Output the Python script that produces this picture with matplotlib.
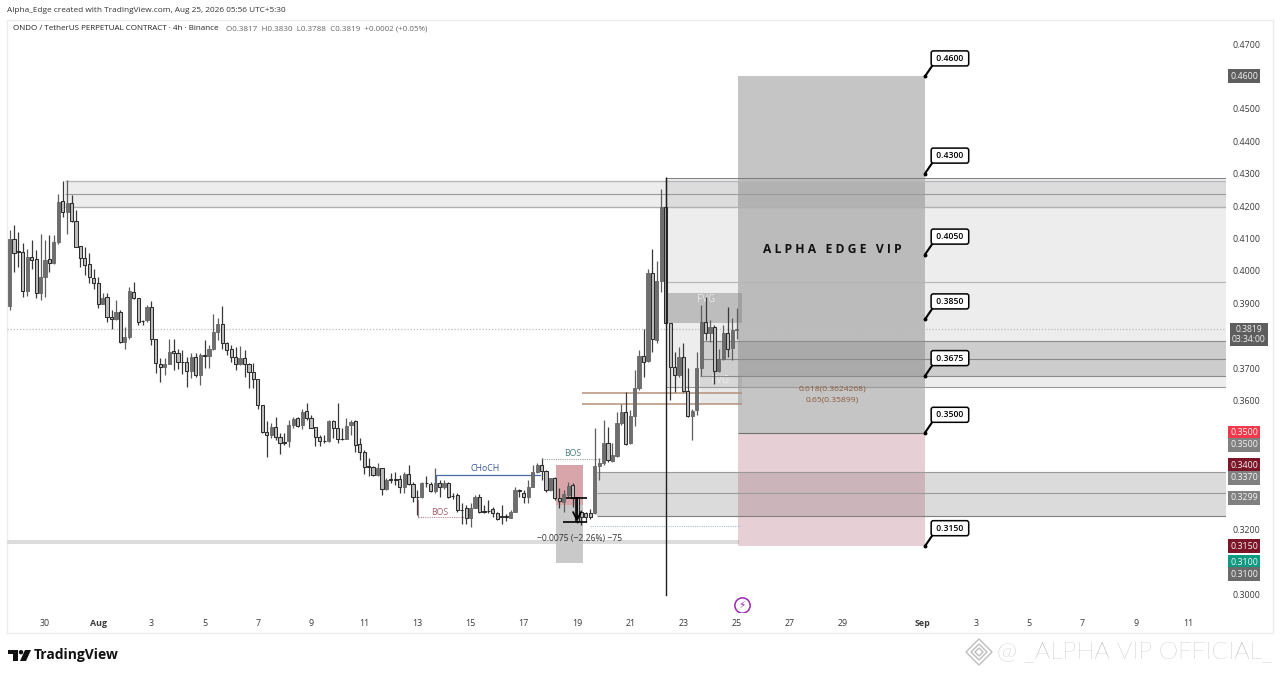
import matplotlib
matplotlib.use("Agg")
import matplotlib.pyplot as plt
from matplotlib.patches import Rectangle, Polygon, Circle
import numpy as np

plt.rcParams['font.family'] = ['Open Sans', 'DejaVu Sans']

# ---- data -----------------------------------------------------------------
first_candle_day = -4 / 3      # days relative to Jul 30
candle_step = 1 / 6            # 4h candles
opens = [.3891,.4097,.4061,.4057,.3938,.4043,.4035,.3930,.3980,.4035,
         .4023,.4090,.4215,.4182,.4208,.4155,.4076,.4038,.4020,.3979,
         .3963,.3899,.3918,.3858,.3851,.3874,.3781,.3797,.3936,.3915,
         .3845,.3848,.3889,.3791,.3712,.3702,.3712,.3753,.3747,.3718,
         .3717,.3692,.3733,.3678,.3739,.3737,.3760,.3812,.3836,.3776,
         .3760,.3735,.3711,.3732,.3711,.3688,.3665,.3586,.3503,.3493,
         .3519,.3486,.3473,.3475,.3524,.3545,.3524,.3567,.3545,.3517,
         .3486,.3476,.3476,.3537,.3516,.3481,.3481,.3524,.3536,.3465,
         .3442,.3396,.3393,.3370,.3392,.3328,.3356,.3356,.3356,.3334,
         .3373,.3342,.3302,.3301,.3345,.3342,.3320,.3346,.3332,.3346,
         .3306,.3308,.3263,.3267,.3236,.3269,.3303,.3258,.3259,.3264,
         .3251,.3242,.3242,.3238,.3256,.3322,.3315,.3301,.3334,.3378,
         .3402,.3383,.3323,.3359,.3300,.3287,.3308,.3339,.3301,.3257,
         .3251,.3251,.3253,.3397,.3408,.3467,.3414,.3428,.3529,.3565,
         .3467,.3552,.3637,.3738,.3722,.3992,.3786,.3969,.4198,.3840,
         .3702,.3678,.3733,.3630,.3553,.3570,.3699,.3843,.3807,.3827,
         .3692,.3728,.3807,.3763,.3817]
highs = [.4126,.4141,.4121,.4085,.4067,.4095,.4064,.4115,.4095,.4110,
         .4110,.4237,.4278,.4280,.4234,.4188,.4076,.4074,.4054,.4007,
         .3980,.3930,.3930,.3879,.3910,.3879,.3827,.3951,.3964,.3915,
         .3848,.3894,.3908,.3791,.3730,.3730,.3791,.3791,.3760,.3755,
         .3735,.3747,.3745,.3747,.3786,.3771,.3866,.3853,.3892,.3781,
         .3771,.3766,.3769,.3755,.3714,.3714,.3665,.3586,.3537,.3529,
         .3548,.3498,.3498,.3539,.3550,.3548,.3575,.3591,.3555,.3517,
         .3493,.3493,.3539,.3539,.3591,.3514,.3545,.3541,.3539,.3483,
         .3447,.3421,.3397,.3408,.3392,.3359,.3377,.3380,.3370,.3380,
         .3400,.3349,.3323,.3349,.3367,.3349,.3390,.3354,.3354,.3349,
         .3313,.3313,.3282,.3277,.3284,.3308,.3311,.3277,.3292,.3272,
         .3256,.3277,.3249,.3262,.3334,.3328,.3323,.3354,.3400,.3408,
         .3421,.3385,.3361,.3364,.3329,.3323,.3349,.3344,.3303,.3262,
         .3257,.3264,.3514,.3421,.3540,.3519,.3467,.3565,.3590,.3625,
         .3570,.3694,.3755,.3819,.4007,.4066,.4031,.4252,.4290,.3840,
         .3748,.3766,.3776,.3699,.3575,.3750,.3894,.3920,.3848,.3833,
         .3760,.3833,.3887,.3853,.3885]
lows = [.3879,.3997,.4013,.3918,.3922,.4007,.3915,.3910,.3918,.3997,
        .4021,.4083,.4167,.4115,.4152,.4072,.4011,.3987,.3961,.3943,
        .3884,.3897,.3843,.3819,.3848,.3778,.3760,.3791,.3912,.3833,
        .3833,.3843,.3771,.3685,.3658,.3678,.3712,.3694,.3696,.3683,
        .3640,.3668,.3673,.3647,.3699,.3699,.3757,.3786,.3760,.3740,
        .3719,.3694,.3709,.3671,.3637,.3637,.3575,.3500,.3426,.3483,
        .3478,.3434,.3462,.3455,.3514,.3517,.3511,.3539,.3514,.3459,
        .3459,.3469,.3473,.3483,.3467,.3478,.3480,.3493,.3442,.3416,
        .3373,.3367,.3367,.3367,.3308,.3323,.3344,.3339,.3315,.3315,
        .3339,.3287,.3246,.3298,.3334,.3318,.3315,.3301,.3328,.3298,
        .3295,.3256,.3220,.3218,.3210,.3267,.3253,.3251,.3253,.3239,
        .3231,.3218,.3229,.3236,.3256,.3303,.3282,.3282,.3332,.3375,
        .3354,.3318,.3321,.3292,.3267,.3257,.3303,.3272,.3221,.3215,
        .3226,.3233,.3249,.3354,.3401,.3411,.3411,.3426,.3524,.3462,
        .3465,.3521,.3632,.3671,.3719,.3750,.3776,.3935,.3835,.3601,
        .3627,.3673,.3627,.3550,.3477,.3555,.3675,.3786,.3781,.3652,
        .3688,.3724,.3735,.3724,.3791]
closes = [.4097,.4056,.4059,.3938,.4043,.4033,.3930,.3980,.4033,.4023,
          .4090,.4213,.4182,.4208,.4155,.4074,.4038,.4018,.3980,.3961,
          .3899,.3917,.3858,.3851,.3874,.3781,.3797,.3938,.3915,.3843,
          .3844,.3889,.3791,.3714,.3702,.3712,.3750,.3745,.3717,.3717,
          .3692,.3733,.3678,.3740,.3737,.3760,.3812,.3836,.3776,.3757,
          .3735,.3712,.3732,.3711,.3688,.3665,.3586,.3503,.3493,.3519,
          .3486,.3467,.3469,.3524,.3543,.3521,.3565,.3545,.3516,.3486,
          .3475,.3475,.3537,.3516,.3480,.3480,.3521,.3534,.3463,.3442,
          .3395,.3395,.3370,.3390,.3328,.3354,.3355,.3355,.3334,.3373,
          .3342,.3301,.3301,.3344,.3344,.3320,.3344,.3332,.3346,.3301,
          .3305,.3262,.3262,.3236,.3267,.3301,.3256,.3257,.3258,.3251,
          .3233,.3241,.3241,.3256,.3323,.3321,.3301,.3332,.3378,.3402,
          .3382,.3323,.3359,.3298,.3289,.3311,.3337,.3298,.3229,.3241,
          .3239,.3239,.3397,.3408,.3467,.3416,.3431,.3529,.3565,.3465,
          .3552,.3637,.3738,.3719,.3992,.3791,.3969,.4198,.3840,.3702,
          .3678,.3735,.3630,.3553,.3568,.3699,.3843,.3807,.3827,.3692,
          .3728,.3809,.3760,.3817,.3819]

x_tick_days = [0,2,4,6,8,10,12,14,16,18,20,22,24,26,28,30,33,35,37,39,41,43]
x_tick_labels = ['30','Aug','3','5','7','9','11','13','15','17','19','21','23','25','27','29','Sep','3','5','7','9','11']
y_tick_values = [.47,.45,.44,.43,.42,.41,.40,.39,.37,.36,.32,.30]

callout_prices = [.4600,.4300,.4050,.3850,.3675,.3500,.3150]
# price tag: value, background colour, pixel shift
tag_values = [.4600,.3500,.3500,.3400,.3370,.3299,.3150,.3100,.3100]
tag_colors = ['#5e5e5e','#f2394b','#808080','#7b1527','#808080','#808080','#7b1527','#0d9a83','#6b6b6b']
tag_shifts = [0,0,-12,0,-3,0,0,0,-12]

last_price = .3819
entry_price, target_price, stop_price = .3500, .4600, .3150
fib_levels = [.3624, .3590]

# ---- figure ---------------------------------------------------------------
W, H = 1280, 676
fig = plt.figure(figsize=(W/100, H/100), dpi=100, facecolor='white')
top_px, bot_px, left_px, right_px = 20, 612, 7, 1226
ax = fig.add_axes([left_px/W, 1-bot_px/H, (right_px-left_px)/W, (bot_px-top_px)/H])
ax.set_xlim(-1.4286, 44.398)
ax.set_ylim(.29469, .47741)
ax.set_facecolor('none')
for s in ax.spines.values():
    s.set_visible(False)
XMAX = 44.398

def band(x0, x1, p0, p1, fc, alpha=1, z=1):
    ax.add_patch(Rectangle((x0, p0), x1-x0, p1-p0, fc=fc, ec='none', alpha=alpha, zorder=z))

def hline(p, x0, x1, color='#8f8f8f', lw=0.8, ls='-', z=1.5):
    ax.plot([x0, x1], [p, p], color=color, lw=lw, ls=ls, zorder=z, solid_capstyle='butt')

# big light zone right of the spike
band(23.35, XMAX, .3641, .4286, '#000000', .07, 1)
hline(.4286, 23.35, XMAX, '#7a7a82', .7)
hline(.3965, 23.35, XMAX, '#b5b5b5', .8)
hline(.3641, 23.35, XMAX, '#9a9a9a', .8)
# top supply band
band(.75, XMAX, .4197, .4277, '#000000', .07, 1)
hline(.4277, .75, XMAX, '#b8b8b8', 1.0)
hline(.4237, .75, XMAX, '#9a9a9a', .8)
hline(.4197, .75, XMAX, '#b0b0b0', 1.0)
# mid band
band(24.62, XMAX, .3675, .3783, '#000000', .135, 1.1)
hline(.3783, 24.62, XMAX, '#8a8a8a', .8)
hline(.3728, 24.62, XMAX, '#8a8a8a', .8)
hline(.3675, 24.62, XMAX, '#8a8a8a', .8)
# FVG boxes
band(23.35, 26.2, .3839, .3931, '#000000', .2, 1.1)
band(24.62, 26.2, .3590, .3675, '#000000', .09, 1.1)
ax.text(24.85, .3912, 'FVG', fontsize=7, color='#e9e9e9', ha='center', va='center', zorder=1.2)
ax.text(25.37, .3660, 'FVG', fontsize=7, color='#ededed', ha='center', va='center', zorder=1.2)
# lower band
band(20.75, XMAX, .3243, .3379, '#000000', .14, 1)
hline(.3379, 20.75, XMAX, '#9a9a9a', .8)
hline(.3314, 20.75, XMAX, '#9a9a9a', .8)
hline(.3243, 20.75, XMAX, '#808080', .8)
# strip at the lows
band(-1.4286, 26.1, .3157, .3169, '#dcdcdc', 1, 1)
# measure rectangle
band(19.21, 20.23, .3277, .3400, '#d8a6aa', 1, 1.2)
band(19.21, 20.23, .3098, .3277, '#c9c9c9', 1, 1.2)
# long-position tool
band(26.05, 33.08, entry_price, target_price, '#808080', .45, 1.3)
band(26.05, 33.08, stop_price, entry_price, '#9f475b', .25, 1.3)
hline(entry_price, 26.05, 33.08, '#707070', .8, z=1.4)
# fib lines
for p in fib_levels:
    hline(p, 20.19, 26.2, '#b5917a', 1.1, z=1.6)
ax.text(29.6, .3634, '0.618(0.3624268)', fontsize=6.1, color='#8a5a3c', ha='center', va='center', zorder=5)
ax.text(29.6, .3600, '0.65(0.35899)', fontsize=6.1, color='#8a5a3c', ha='center', va='center', zorder=5)
# current price line
ax.plot([-1.4286, XMAX], [last_price, last_price], color='#bdbdbd', lw=.9, ls=(0, (1, 1.5)), zorder=1.7)
# dotted target under measure
hline(.3213, 20.49, 26.13, '#b3bdd6', .8, (0, (1, 1)))

# candles
days = first_candle_day + candle_step*np.arange(len(opens))
o, h, l, c = map(np.array, (opens, highs, lows, closes))
up = c >= o
ax.vlines(days[up], l[up], h[up], color='#5d5d5d', lw=.9, zorder=3)
ax.vlines(days[~up], l[~up], h[~up], color='#383838', lw=.9, zorder=3)
bw = candle_step*.72
min_h = .00012
ax.bar(days[up], np.maximum(c[up]-o[up], min_h), bw, o[up], color='#6e6e6e', ec='#666666', lw=.6, zorder=4)
ax.bar(days[~up], np.maximum(o[~up]-c[~up], min_h), bw, c[~up], color='#bdbdbd', ec='#2c2c2c', lw=.75, zorder=4)

# spike vertical
ax.plot([23.35, 23.35], [.3000, .4286], color='#202020', lw=1.0, zorder=5)

# structure marks
ax.plot([14.7, 14.7, 18.6], [.3332, .3371, .3371], color='#4a6aa8', lw=.9, zorder=3.5)
ax.text(16.54, .3390, 'CHoCH', fontsize=6.3, color='#3a5a9a', ha='center', va='center', zorder=5)
ax.plot([14.02, 14.02], [.3293, .3240], color='#9a7a80', lw=.8, zorder=3.5)
ax.plot([14.02, 15.79], [.3240, .3240], color='#c08a96', lw=.8, ls=(0, (1, 1)), zorder=3.5)
ax.text(14.85, .3255, 'BOS', fontsize=6.3, color='#a85a6a', ha='center', va='center', zorder=5)
ax.plot([18.68, 20.86], [.3420, .3420], color='#9aa5a5', lw=.8, ls=(0, (1, 1)), zorder=3.5)
ax.text(19.85, .3437, 'BOS', fontsize=6.3, color='#4f8080', ha='center', va='center', zorder=5)

# measure tool
hline(.3299, 19.59, 20.38, '#000000', 1.2, z=6)
hline(.3225, 19.47, 20.38, '#000000', 1.2, z=6)
ax.annotate('', xy=(20.0, .3225), xytext=(20.0, .3299),
            arrowprops=dict(arrowstyle='->', color='black', lw=1.3, mutation_scale=14, shrinkA=0, shrinkB=0), zorder=6)
ax.text(20.1, .3175, '\u22120.0075 (\u22122.26%) \u221275', fontsize=6.2, color='#333333', ha='center', va='center', zorder=6)

# title over long box
ax.text(29.6, .4065, 'A L P H A   E D G E   V I P', fontsize=8.7, color='#111111', fontweight='bold',
        ha='center', va='center', zorder=6)

# callouts
for p in callout_prices:
    ax.annotate(f' {p:.4f} ', xy=(33.08, p), xycoords='data', xytext=(25, 18), textcoords='offset pixels',
                fontsize=6.2, fontweight='semibold', color='black', ha='center', va='center', zorder=7,
                bbox=dict(boxstyle='round,pad=0.35,rounding_size=0.25', fc='white', ec='black', lw=1.1),
                arrowprops=dict(arrowstyle='-', color='black', lw=1.5, shrinkA=0, shrinkB=0, relpos=(0, 0)))
    ax.plot([33.08], [p], 'o', color='black', ms=1.8, zorder=7)

# lightning icon
ax.plot([26.2], [.2969], 'o', ms=11, mfc='white', mec='#9c27b0', mew=1.1, zorder=7)
ax.text(26.2, .2969, '\u26A1', fontsize=7.5, color='#9c27b0', ha='center', va='center', family='DejaVu Sans', zorder=8)

# axes ticks
ax.yaxis.tick_right()
ax.set_yticks(y_tick_values)
ax.set_yticklabels([f'{v:.4f}' for v in y_tick_values], fontsize=6.4, color='#3a3a3a')
ax.tick_params(axis='y', length=0, pad=4.5)
ax.set_xticks(x_tick_days)
ax.set_xticklabels(x_tick_labels, fontsize=6.4, color='#3a3a3a')
for t, lab in zip(ax.get_xticklabels(), x_tick_labels):
    if lab in ('Aug', 'Sep'):
        t.set_fontweight('bold')
ax.tick_params(axis='x', length=0, pad=5)

# price tags
tag_tr = ax.get_yaxis_transform()
for v, col, sh in zip(tag_values, tag_colors, tag_shifts):
    ax.annotate(f'{v:.4f}', xy=(1, v), xycoords=tag_tr, xytext=(18, sh), textcoords='offset pixels',
                fontsize=6.4, color='#f4f4f4', ha='center', va='center', zorder=9, annotation_clip=False,
                bbox=dict(boxstyle='square,pad=0.28', fc=col, ec='none'))
ax.annotate(f'{last_price:.4f}\n03:34:00', xy=(1, last_price), xycoords=tag_tr, xytext=(23, -5), textcoords='offset pixels',
            fontsize=6.2, color='#efefef', ha='center', va='center', zorder=9, annotation_clip=False, linespacing=1.1,
            bbox=dict(boxstyle='square,pad=0.25', fc='#5e5e5e', ec='none'))

# overlay in pixel units
ov = fig.add_axes([0, 0, 1, 1], zorder=-1)
ov.set_xlim(0, W); ov.set_ylim(H, 0); ov.axis('off')
ov.add_patch(Rectangle((7, 20), 1266, 613, fc='white', ec='#ececec', lw=1))
top = fig.add_axes([0, 0, 1, 1], zorder=10)
top.set_xlim(0, W); top.set_ylim(H, 0); top.axis('off'); top.patch.set_alpha(0)
top.text(7, 10, 'Alpha_Edge created with TradingView.com, Aug 25, 2026 05:56 UTC+5:30', fontsize=5.95, color='#333333', va='center')
top.text(13, 29, 'ONDO / TetherUS PERPETUAL CONTRACT \u00b7 4h \u00b7 Binance', fontsize=5.75, color='#222222', va='center')
top.text(226, 29, 'O0.3817  H0.3830  L0.3788  C0.3819  +0.0002 (+0.05%)', fontsize=5.8, color='#666666', va='center')
# TradingView logo
top.add_patch(Polygon([(8,650),(18,650),(18,661),(13,661),(13,654),(8,654)], fc='#111111', ec='none'))
top.add_patch(Circle((21,652.2), 2.2, fc='#111111', ec='none'))
top.add_patch(Polygon([(25,650),(31,650),(26,661),(20,661)], fc='#111111', ec='none'))
top.text(34, 655, 'TradingView', fontsize=10, fontweight='bold', color='#111111', va='center', family='Open Sans')
# watermark
for s in (13, 8, 4):
    top.add_patch(Polygon([(979,652-s),(979+s,652),(979,652+s),(979-s,652)], fc='none', ec='#bcbcbc', lw=1))
top.text(997, 652, '@ _ALPHA VIP OFFICIAL_', fontsize=17.6, color='#a8a8a8', va='center', family='Lato', fontweight='light')

fig.savefig('out.png', dpi=100)
